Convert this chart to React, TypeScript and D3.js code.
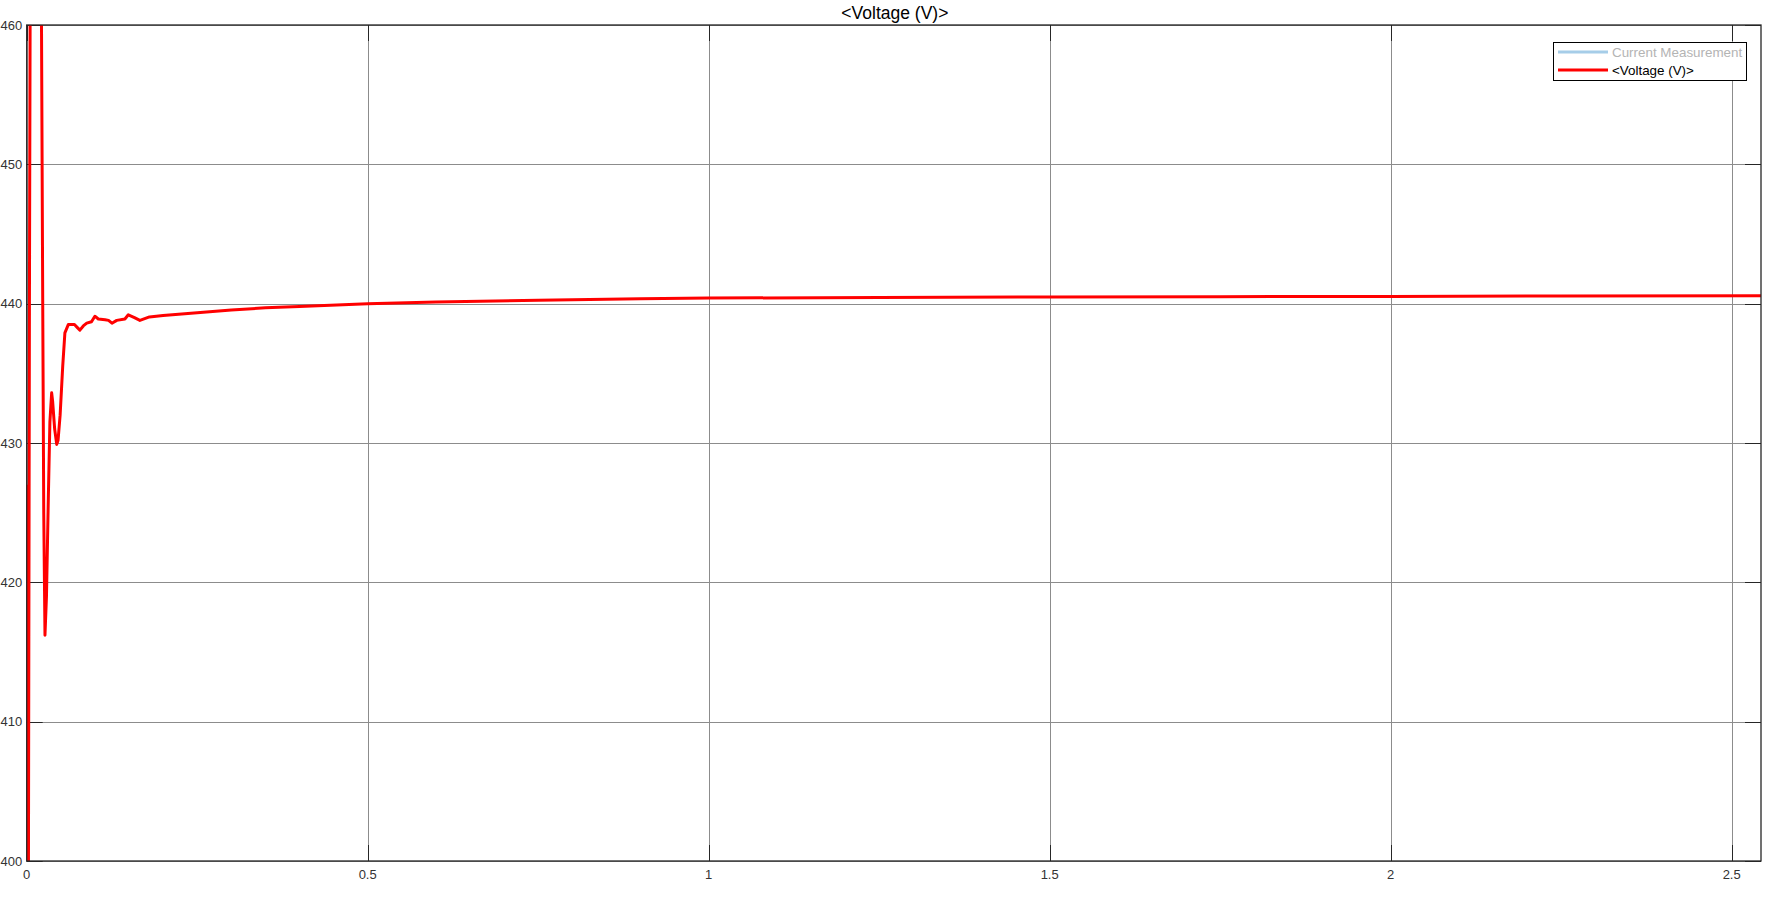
import React from "react";
import * as d3 from "d3";

const title = "<Voltage (V)>";
const legendLabels = ["Current Measurement", "<Voltage (V)>"];
const xTicks = [0, 0.5, 1, 1.5, 2, 2.5];
const xTickLabels = ["0", "0.5", "1", "1.5", "2", "2.5"];
const yTicks = [400, 410, 420, 430, 440, 450, 460];
const yTickLabels = ["400", "410", "420", "430", "440", "450", "460"];
const xDomain = [0, 2.543];
const yDomain = [400, 460];

// time (s)
const voltageT = [
  0, 0.0008, 0.0015, 0.0025, 0.004, 0.006, 0.01, 0.014, 0.018, 0.0205, 0.0217,
  0.0235, 0.025, 0.0268, 0.029, 0.0317, 0.034, 0.0366, 0.038, 0.041, 0.044,
  0.046, 0.049, 0.0528, 0.056, 0.061, 0.065, 0.07, 0.074, 0.078, 0.083, 0.088,
  0.095, 0.1, 0.105, 0.115, 0.12, 0.125, 0.132, 0.144, 0.149, 0.158, 0.166,
  0.18, 0.2, 0.25, 0.3, 0.35, 0.4, 0.5, 0.6, 0.75, 0.9, 1.0, 1.25, 1.5, 1.75,
  2.0, 2.25, 2.543,
];
// voltage (V)
const voltageV = [
  427, 405, 385, 398, 440, 480, 510, 505, 485, 468, 460,
  440, 425, 416.2, 419, 426, 431.5, 433.6, 433, 431, 429.9,
  430.2, 432, 435.5, 437.9, 438.5, 438.5, 438.5, 438.3, 438.1, 438.4, 438.6,
  438.7, 439.1, 438.9, 438.85, 438.8, 438.6, 438.8, 438.9, 439.2, 439.0, 438.8,
  439.05, 439.15, 439.35, 439.55, 439.7, 439.8, 440.0, 440.12, 440.25, 440.35, 440.4, 440.45, 440.48, 440.5,
  440.52, 440.55, 440.57,
];

const W = 1777;
const H = 906;
const left = 26.7;
const top = 25;
const right = 1761;
const bottom = 861;
const FONT = "'Liberation Sans', Arial, sans-serif";

export default function App() {
  const x = d3.scaleLinear().domain(xDomain).range([left, right]);
  const y = d3.scaleLinear().domain(yDomain).range([bottom, top]);
  const data = voltageT.map((t, i) => [t, voltageV[i]] as [number, number]);
  const line = d3
    .line<[number, number]>()
    .x((d) => x(d[0]))
    .y((d) => y(d[1]));
  const tickLen = 16;
  const axisColor = "#262626";
  const gridColor = "#8c8c8c";

  return (
    <svg
      width={W}
      height={H}
      style={{ position: "fixed", left: 0, top: 0, background: "#fff" }}
    >
      <defs>
        <clipPath id="plotClip">
          <rect x={left} y={top} width={right - left} height={bottom - top} />
        </clipPath>
      </defs>
      <rect x={0} y={0} width={W} height={H} fill="#fff" />
      {/* grid */}
      {xTicks.map((t) => (
        <line
          key={"gx" + t}
          x1={Math.round(x(t)) + 0.5}
          x2={Math.round(x(t)) + 0.5}
          y1={top}
          y2={bottom}
          stroke={gridColor}
          strokeWidth={1}
        />
      ))}
      {yTicks.map((t) => (
        <line
          key={"gy" + t}
          x1={left}
          x2={right}
          y1={Math.round(y(t)) + 0.5}
          y2={Math.round(y(t)) + 0.5}
          stroke={gridColor}
          strokeWidth={1}
        />
      ))}
      {/* ticks inward on all sides */}
      {xTicks.map((t) => (
        <g key={"tx" + t}>
          <line
            x1={Math.round(x(t)) + 0.5}
            x2={Math.round(x(t)) + 0.5}
            y1={bottom}
            y2={bottom - tickLen}
            stroke={axisColor}
          />
          <line
            x1={Math.round(x(t)) + 0.5}
            x2={Math.round(x(t)) + 0.5}
            y1={top}
            y2={top + tickLen}
            stroke={axisColor}
          />
        </g>
      ))}
      {yTicks.map((t) => (
        <g key={"ty" + t}>
          <line
            x1={left}
            x2={left + tickLen}
            y1={Math.round(y(t)) + 0.5}
            y2={Math.round(y(t)) + 0.5}
            stroke={axisColor}
          />
          <line
            x1={right}
            x2={right - tickLen}
            y1={Math.round(y(t)) + 0.5}
            y2={Math.round(y(t)) + 0.5}
            stroke={axisColor}
          />
        </g>
      ))}
      {/* data */}
      <g clipPath="url(#plotClip)">
        <path
          d={line(data) || ""}
          fill="none"
          stroke="#ff0000"
          strokeWidth={3}
          strokeLinejoin="round"
        />
      </g>
      {/* box */}
      <rect
        x={left}
        y={top}
        width={right - left}
        height={bottom - top}
        fill="none"
        stroke={axisColor}
        strokeWidth={1.3}
      />
      {/* tick labels */}
      {yTicks.map((t, i) => (
        <text
          key={"ly" + t}
          x={left - 4.5}
          y={y(t) + 4.7}
          textAnchor="end"
          fontFamily={FONT}
          fontSize={13}
          fill="#333"
        >
          {yTickLabels[i]}
        </text>
      ))}
      {xTicks.map((t, i) => (
        <text
          key={"lx" + t}
          x={x(t)}
          y={879}
          textAnchor="middle"
          fontFamily={FONT}
          fontSize={13}
          fill="#333"
        >
          {xTickLabels[i]}
        </text>
      ))}
      {/* title */}
      <text
        x={(left + right) / 2 + 1}
        y={19}
        textAnchor="middle"
        fontFamily={FONT}
        fontSize={17.5}
        fill="#000"
      >
        {title}
      </text>
      {/* legend */}
      <g>
        <rect
          x={1553.5}
          y={42.5}
          width={193}
          height={38}
          fill="#fff"
          stroke="#000"
          strokeWidth={1}
        />
        <line x1={1558} x2={1608} y1={52} y2={52} stroke="#a6cde8" strokeWidth={3} />
        <text x={1612} y={57} fontFamily={FONT} fontSize={13.4} fill="#b4b4b4">
          {legendLabels[0]}
        </text>
        <line x1={1558} x2={1608} y1={70} y2={70} stroke="#ff0000" strokeWidth={3} />
        <text x={1612} y={75} fontFamily={FONT} fontSize={13.4} fill="#000">
          {legendLabels[1]}
        </text>
      </g>
    </svg>
  );
}
